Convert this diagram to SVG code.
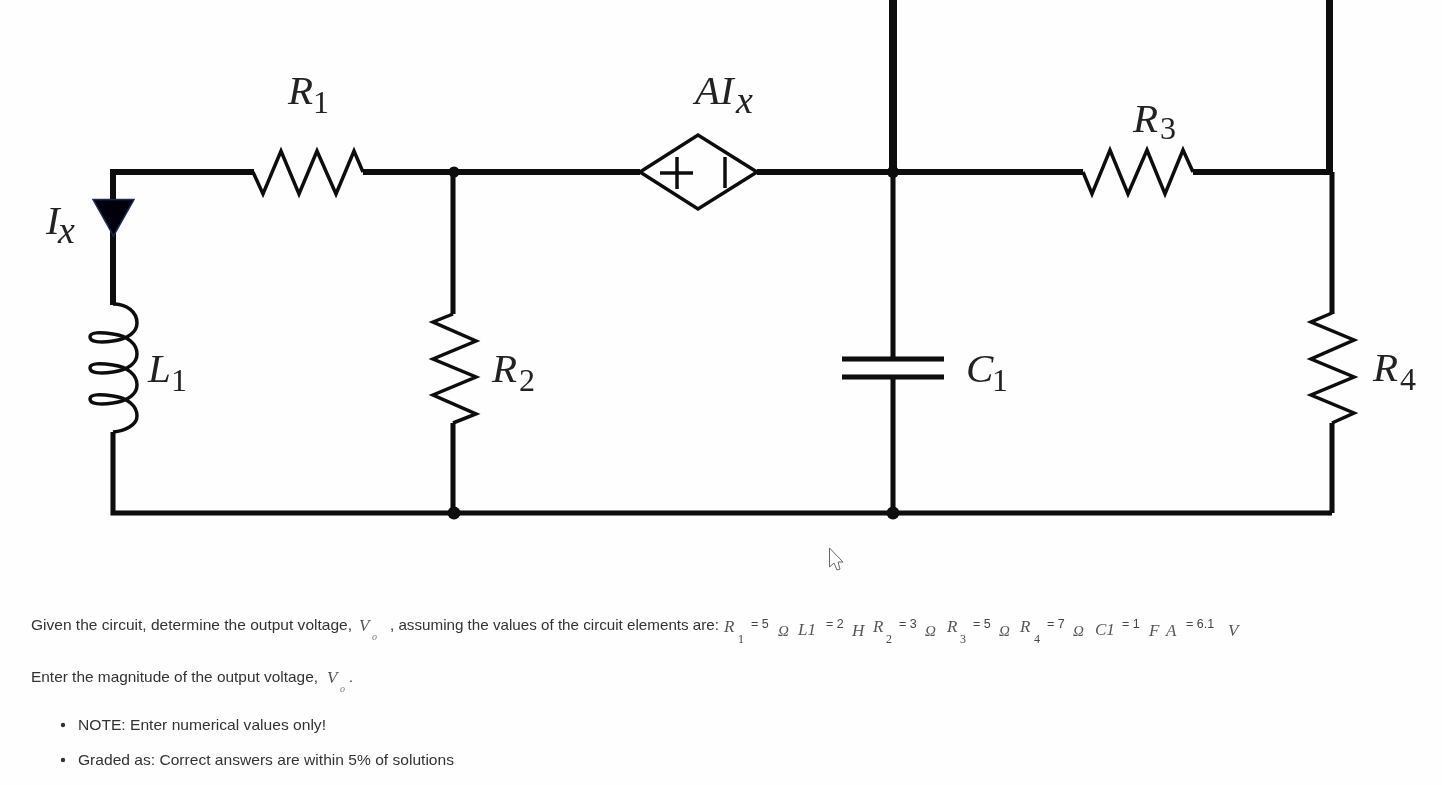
<svg xmlns="http://www.w3.org/2000/svg" width="1442" height="785" viewBox="0 0 1442 785">
<style>
.w{fill:none;stroke:#080808;stroke-width:5;stroke-linejoin:miter}
.t{stroke-width:6}
.z{fill:none;stroke:#111;stroke-width:3.500;stroke-linejoin:miter}
.d{fill:#080808}
.m{font-family:"Liberation Serif",serif;font-style:italic;font-size:41px;fill:#222}
.s{font-family:"Liberation Serif",serif;font-size:32px;fill:#222}
.si{font-family:"Liberation Serif",serif;font-style:italic;font-size:38px;fill:#222}
.p{font-family:"Liberation Sans",Arial,sans-serif;font-size:14.500px;fill:#333}
.q{font-family:"Liberation Sans",Arial,sans-serif;font-size:12.500px;fill:#444}
.v{font-family:"Liberation Serif",serif;font-style:italic;font-size:17px;fill:#555}
.u{font-family:"Liberation Serif",serif;font-size:12px;fill:#444}
.o{font-family:"Liberation Serif",serif;font-style:italic;font-size:10px;fill:#777}
</style>
<defs><filter id="b" x="-5%" y="-5%" width="110%" height="110%"><feGaussianBlur stdDeviation="0.45"/></filter>
<filter id="c" x="-2%" y="-5%" width="104%" height="110%"><feGaussianBlur stdDeviation="0.3"/></filter></defs>
<rect width="1442" height="785" fill="#fefefe"/>
<g filter="url(#b)">
<g id="connectors">
<path class="w t" d="M113 305V172H254"/>
<path class="w t" d="M363 172H640"/>
<path class="w t" d="M757 172H1083"/>
<path class="w t" d="M1193 172H1332"/>
<path class="w" d="M453 172V314"/>
<path class="w" d="M453 423V513"/>
<path class="w" d="M893 172V358"/>
<path class="w" d="M893 377V513"/>
<path class="w" d="M1332 172V314"/>
<path class="w" d="M1332 423V513"/>
<path class="w" d="M113 432V513H1332"/>
<path class="w" d="M893 0V172" style="stroke-width:8"/>
<path class="w" d="M1329.500 0V172" style="stroke-width:7"/>
</g>
<g id="junctions">
<circle class="d" cx="454" cy="172" r="5.500"/>
<circle class="d" cx="893" cy="172" r="6"/>
<circle class="d" cx="454" cy="513" r="6.500"/>
<circle class="d" cx="893" cy="513" r="6.500"/>
</g>
<g id="Ix">
<path d="M93 199.500H134L113.500 236Z" fill="#05050f" stroke="#1c2c5c" stroke-width="1.500"/>
<text class="m" x="46" y="234">I</text><text class="si" x="58" y="243">x</text>
</g>
<g id="L1">
<path class="z" d="M113 304C127 304 137 312 137 323C137 332 128 339 113 341C100 343 90 342 90 337C90 332 100 332 113 334C128 336 137 344 137 354C137 363 128 370 113 372C100 374 90 373 90 368C90 363 100 363 113 365C128 367 137 375 137 385C137 394 128 401 113 403C100 405 90 404 90 399C90 394 100 394 113 396C128 398 137 406 137 416C137 425 125 431 113 432"/>
<text class="m" x="148" y="382">L</text><text class="s" x="171" y="391">1</text>
</g>
<g id="R1">
<path class="z" d="M253 172L263 194L281 151L299 194L317 151L336 194L354 151L363 172"/>
<text class="m" x="288" y="104">R</text><text class="s" x="313" y="113">1</text>
</g>
<g id="R2">
<path class="z" d="M453 314L433 322L476 341L433 359L476 377L433 395L476 414L453 423"/>
<text class="m" x="492" y="382">R</text><text class="s" x="519" y="391">2</text>
</g>
<g id="AIx">
<path class="z" d="M640 172L698 135L757 172L698 209Z"/>
<path class="z" d="M660 173H693M677 157V189M725 157V188"/>
<text class="m" x="695" y="104">AI</text><text class="si" x="736" y="113">x</text>
</g>
<g id="C1">
<path class="w" d="M842 359H944M842 377H944"/>
<text class="m" x="966" y="382">C</text><text class="s" x="992" y="391">1</text>
</g>
<g id="R3">
<path class="z" d="M1083 172L1092 194L1110 150L1128 194L1147 150L1165 194L1183 150L1193 172"/>
<text class="m" x="1133" y="132">R</text><text class="s" x="1160" y="139">3</text>
</g>
<g id="R4">
<path class="z" d="M1332 313L1311 322L1354 340L1311 359L1354 377L1311 395L1354 413L1332 423"/>
<text class="m" x="1373" y="381">R</text><text class="s" x="1400" y="390">4</text>
</g>
</g>
<g id="cursor">
<path d="M829.500 548V567L834 563L837 570L840 569L838 562H843Z" fill="#fff" stroke="#666" stroke-width="1"/>
</g>
<g id="question" filter="url(#c)">
<text class="p" x="31" y="630" textLength="321" lengthAdjust="spacingAndGlyphs">Given the circuit, determine the output voltage,</text>
<text class="v" x="359" y="631">V</text><text class="o" x="372" y="640">o</text>
<text class="p" x="390" y="630" textLength="329" lengthAdjust="spacingAndGlyphs">, assuming the values of the circuit elements are:</text>
<text class="v" x="724" y="632">R</text><text class="u" x="738" y="643">1</text><text class="q" x="751" y="628">= 5</text>
<text class="v" x="778" y="636" style="font-size:15px">Ω</text>
<text class="v" x="798" y="635">L1</text><text class="q" x="826" y="628">= 2</text>
<text class="v" x="852" y="636">H</text>
<text class="v" x="873" y="632">R</text><text class="u" x="886" y="643">2</text><text class="q" x="899" y="628">= 3</text>
<text class="v" x="925" y="636" style="font-size:15px">Ω</text>
<text class="v" x="947" y="632">R</text><text class="u" x="960" y="643">3</text><text class="q" x="973" y="628">= 5</text>
<text class="v" x="999" y="636" style="font-size:15px">Ω</text>
<text class="v" x="1020" y="632">R</text><text class="u" x="1034" y="643">4</text><text class="q" x="1047" y="628">= 7</text>
<text class="v" x="1073" y="636" style="font-size:15px">Ω</text>
<text class="v" x="1095" y="635">C1</text><text class="q" x="1122" y="628">= 1</text>
<text class="v" x="1149" y="636">F</text><text class="v" x="1166" y="636">A</text>
<text class="q" x="1186" y="628">= 6.1</text><text class="v" x="1228" y="636">V</text>
<text class="p" x="31" y="682" textLength="287" lengthAdjust="spacingAndGlyphs">Enter the magnitude of the output voltage,</text>
<text class="v" x="327" y="683">V</text><text class="o" x="340" y="692">o</text><text class="p" x="349" y="682">.</text>
<circle cx="63" cy="725" r="2.200" fill="#333"/>
<text class="p" x="78" y="730" textLength="248" lengthAdjust="spacingAndGlyphs">NOTE: Enter numerical values only!</text>
<circle cx="63" cy="760" r="2.200" fill="#333"/>
<text class="p" x="78" y="765" textLength="376" lengthAdjust="spacingAndGlyphs">Graded as: Correct answers are within 5% of solutions</text>
</g>
</svg>
